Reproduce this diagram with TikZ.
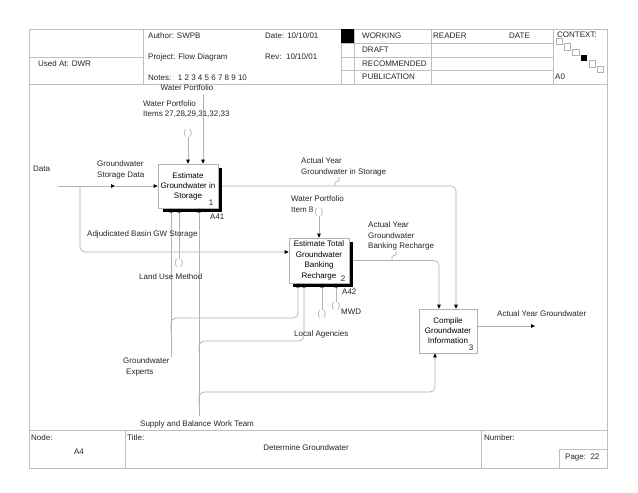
\documentclass[tikz,border=0pt]{standalone}
\usepackage{fontspec}
\setmainfont{Liberation Sans}
\usetikzlibrary{arrows.meta,calc}
\begin{document}
\begin{tikzpicture}[x=1pt,y=-1pt,
  frame/.style={draw=black!25, line width=0.8pt},
  conn/.style={draw=black!30, line width=0.7pt, rounded corners=5pt},
  arr/.style={conn, -{Triangle[length=4pt,width=3.6pt,color=black]}},
  box/.style={draw=black!30, line width=0.7pt, fill=white, align=center,
    font=\fontsize{8}{10}\selectfont, inner sep=1pt},
  lbl/.style={font=\fontsize{8}{10.5}\selectfont, inner sep=0pt, text=black!85},
  shade/.style={fill=black},
  tun/.style={font=\fontsize{8.5}{9}\selectfont, text=black!35, inner sep=0pt},
  sq/.style={draw=black!30, line width=0.5pt}
]
\useasboundingbox (0,0) rectangle (638,493);
\fill[white] (0,0) rectangle (638,493);

% ---------- frame ----------
\draw[frame] (29,29) rectangle (607,468);
\draw[frame] (29,84) -- (607,84);
\draw[frame] (29,430) -- (607,430);
\draw[frame] (143,29) -- (143,84);
\draw[frame] (341,29) -- (341,84);
\draw[frame] (354,29) -- (354,84);
\draw[frame] (431,29) -- (431,84);
\draw[frame] (553,29) -- (553,84);
\draw[frame] (29,57) -- (143,57);
\draw[frame] (341,43) -- (553,43);
\draw[frame] (341,57) -- (553,57);
\draw[frame] (341,70) -- (553,70);
\fill[black] (341,29) rectangle (354,43);
\draw[frame] (125,430) -- (125,468);
\draw[frame] (481,430) -- (481,468);
\draw[frame] (559,449) rectangle (607,468);

% context squares
\foreach \i in {0,1,2,4,5}{
  \draw[sq] (556+8.2*\i,38+5.6*\i) rectangle ++(6.5,6.5);
}
\fill[black] (556+8.2*3,38+5.6*3) rectangle ++(6.5,6.5);

% ---------- header texts ----------
\node[lbl,anchor=west] (hAuthor) at (148,36) {Author: SWPB};
\node[lbl,anchor=west] (hDate) at (265,36) {Date: 10/10/01};
\node[lbl,anchor=west] (hProject) at (148,57) {Project: Flow Diagram};
\node[lbl,anchor=west] (hRev) at (265,57) {Rev:\ \ 10/10/01};
\node[lbl,anchor=west] (hNotes) at (148,78) {Notes:\ \ \ 1 2 3 4 5 6 7 8 9 10};
\node[lbl,anchor=west] (hUsed) at (38,64) {Used At: DWR};
\node[lbl,anchor=west] (hWork) at (362,36) {WORKING};
\node[lbl,anchor=west] (hDraft) at (362,50) {DRAFT};
\node[lbl,anchor=west] (hRec) at (362,64) {RECOMMENDED};
\node[lbl,anchor=west] (hPub) at (362,77) {PUBLICATION};
\node[lbl,anchor=west] (hReader) at (433,36) {READER};
\node[lbl,anchor=west] (hDateCol) at (509,36) {DATE};
\node[lbl,anchor=west] (hContext) at (557,35) {CONTEXT:};
\node[lbl,anchor=west] (hA0) at (555,77) {A0};

% ---------- footer texts ----------
\node[lbl,anchor=west] (fNode) at (31,438) {Node:};
\node[lbl] (fA4) at (79,452) {A4};
\node[lbl,anchor=west] (fTitle) at (127,438) {Title:};
\node[lbl] (fName) at (306,448) {Determine Groundwater};
\node[lbl,anchor=west] (fNumber) at (484,438) {Number:};
\node[lbl,anchor=west] (fPage) at (565,458) {Page:\ \ 22};

% ---------- activity boxes ----------
\fill[shade] (218,168) rectangle (222,212);
\fill[shade] (163,208) rectangle (222,212);
\fill[shade] (349,242) rectangle (353,287);
\fill[shade] (293,283) rectangle (353,287);
\node[box, minimum width=60pt, minimum height=44pt] (b1) at (188,186)
  {Estimate\\Groundwater in\\Storage};
\node[box, minimum width=60pt, minimum height=45pt,
  font=\fontsize{8}{10.6}\selectfont] (b2) at (319,260.5)
  {Estimate Total\\Groundwater\\Banking\\Recharge\hspace{4pt}};
\node[box, minimum width=58pt, minimum height=44pt] (b3) at (448,331)
  {Compile\\Groundwater\\Information\hspace{4pt}};
\node[lbl] (n1) at (211,203) {1};
\node[lbl] (n2) at (343,279) {2};
\node[lbl] (n3) at (471,348) {3};
\node[lbl,anchor=west] (a41) at (210,217) {A41};
\node[lbl,anchor=west] (a42) at (342,292) {A42};

% ---------- coordinates ----------
\coordinate (dataS) at (58,186);
\coordinate (m1) at (115,186);
\coordinate (br1) at (80,186);
\coordinate (wpTop) at (203,94);
\coordinate (wpi) at (188,137);
\coordinate (c1) at (456,186);
\coordinate (wp8) at (319,216);
\coordinate (c2) at (439,260.5);
\coordinate (out3) at (535,326);
\coordinate (ge) at (171,357);
\coordinate (geb) at (298,318);
\coordinate (sb) at (199,416);
\coordinate (sbb) at (304,341);
\coordinate (sbc) at (435,392);
\coordinate (lu) at (179,259);
\coordinate (la) at (322,310);
\coordinate (mwd) at (336,302);

% ---------- connectors ----------
% inputs
\draw[arr] (dataS) -- (m1);
\draw[arr] (m1) -- (m1 -| b1.west);
\draw[arr] (br1) -- (br1 |- 0,252) -- (b2.west |- 0,252);
% controls
\draw[arr] (wpTop) -- (wpTop |- b1.north);
\draw[arr] (wpi) -- (wpi |- b1.north);
\draw[arr] (wp8) -- (wp8 |- b2.north);
% outputs
\draw[arr] ([xshift=4pt]b1.east |- c1) -- (c1) -- (c1 |- b3.north);
\draw[arr] ([xshift=4pt]b2.east |- c2) -- (c2) -- (c2 |- b3.north);
\draw[arr] (b3.east |- out3) -- (out3);
% mechanisms
\draw[arr] (ge) -- (ge |- b1.south);
\draw[arr] (ge |- 0,330) |- (geb) -- (geb |- b2.south);
\draw[arr] (sb) -- (sb |- b1.south);
\draw[arr] (sb |- 0,352) |- (sbb) -- (sbb |- b2.south);
\draw[arr] (sb |- 0,403) |- (sbc) -- (sbc |- b3.south);
\draw[arr] (lu) -- (lu |- b1.south);
\draw[arr] (la) -- (la |- b2.south);
\draw[arr] (mwd) -- (mwd |- b2.south);

% tunnels
\node[tun] (tu1) at (188,133) {(\hspace{3pt})};
\node[tun] (tu2) at (319,212) {(\hspace{3pt})};
\node[tun] (tu3) at (179,263) {(\hspace{3pt})};
\node[tun] (tu4) at (322,314) {(\hspace{3pt})};
\node[tun] (tu5) at (336,306) {(\hspace{3pt})};

% label leaders
\draw[conn, rounded corners=0pt] (335,186) -- (335,182.5) -- (339,180.5) -- (339,177);
\draw[conn, rounded corners=0pt] (392,260) -- (392,256.5) -- (396,254.5) -- (396,251);

% ---------- arrow labels ----------
\node[lbl] (lWPtop) at (187,88) {Water Portfolio};
\node[lbl,anchor=north west,align=left] (lWPitems) at (143,100.5)
  {Water Portfolio\\Items 27,28,29,31,32,33};
\node[lbl,anchor=west] (lData) at (33,169) {Data};
\node[lbl,anchor=north west,align=left] (lGSD) at (97,161)
  {Groundwater\\Storage Data};
\node[lbl,anchor=north west,align=left] (lAYGS) at (301,157.5)
  {Actual Year\\Groundwater in Storage};
\node[lbl,anchor=north west,align=left] (lWP8) at (291,195.5)
  {Water Portfolio\\Item 8};
\node[lbl,anchor=north west,align=left] (lAYBR) at (368,221.5)
  {Actual Year\\Groundwater\\Banking Recharge};
\node[lbl,anchor=west] (lAdj) at (87,234) {Adjudicated Basin GW Storage};
\node[lbl,anchor=west] (lLand) at (139,277) {Land Use Method};
\node[lbl,anchor=west] (lMWD) at (341,312) {MWD};
\node[lbl,anchor=west] (lLocal) at (294,334) {Local Agencies};
\node[lbl,anchor=north west,align=left] (lGE) at (123,357.5)
  {Groundwater\\\hspace{3pt}Experts};
\node[lbl,anchor=west] (lSB) at (140,424) {Supply and Balance Work Team};
\node[lbl,anchor=west] (lAYG) at (497,314) {Actual Year Groundwater};
\end{tikzpicture}
\end{document}
